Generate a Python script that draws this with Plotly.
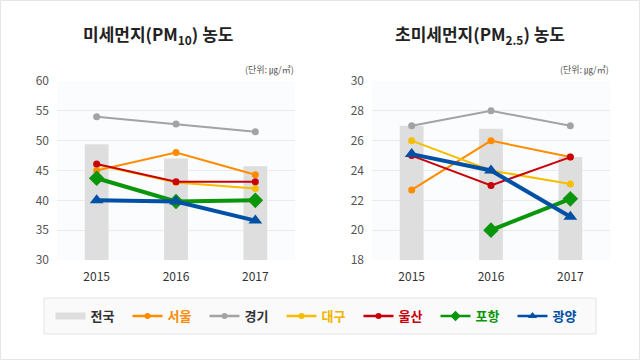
import plotly.graph_objects as go

years = ["2015", "2016", "2017"]

# PM10
pm10_national = [49.4, 47.0, 45.7]
pm10_seoul = [45, 48, 44.3]
pm10_gyeonggi = [54, 52.8, 51.5]
pm10_daegu = [46, 43, 42]
pm10_ulsan = [46.1, 43.1, 43.1]
pm10_pohang = [43.7, 39.8, 40.0]
pm10_gwangyang = [40.0, 39.8, 36.6]

# PM2.5
pm25_national = [27.0, 26.8, 24.9]
pm25_seoul = [22.7, 26, 24.9]
pm25_gyeonggi = [27, 28, 27]
pm25_daegu = [26, 24, 23.1]
pm25_ulsan = [25, 23, 24.9]
pm25_pohang = [None, 20, 22.1]
pm25_gwangyang = [25.1, 24, 20.9]

names = ["전국", "서울", "경기", "대구", "울산", "포항", "광양"]
colors = {"전국": "#dedede", "서울": "#ff8c00", "경기": "#a3a3a3", "대구": "#f5be00",
          "울산": "#c8000a", "포항": "#0a960a", "광양": "#0050a5"}
text_colors = {"전국": "#333333", "서울": "#ff8c00", "경기": "#333333", "대구": "#f0b400",
               "울산": "#c8000a", "포항": "#0a960a", "광양": "#0050a5"}
FONT = "Noto Sans CJK KR"

fig = go.Figure()

def label(n):
    return f"<span style='color:{text_colors[n]}'><b>{n}</b></span>"

def style(n):
    if n == "포항":
        return "diamond", 4, 12
    if n == "광양":
        return "triangle-up", 4, 12
    return "circle", 2, 7

def add_panel(xa, ya, national, series):
    fig.add_trace(go.Bar(x=years, y=national, name="전국", marker=dict(color=colors["전국"], line=dict(width=0)),
                         width=0.3, xaxis=xa, yaxis=ya, showlegend=False))
    for n, vals in series:
        sym, lw, ms = style(n)
        fig.add_trace(go.Scatter(x=years, y=vals, name=n, mode="lines+markers",
                                 line=dict(color=colors[n], width=lw),
                                 marker=dict(symbol=sym, size=ms, color=colors[n]),
                                 xaxis=xa, yaxis=ya, showlegend=False, connectgaps=False))

add_panel("x", "y", pm10_national,
          [("서울", pm10_seoul), ("경기", pm10_gyeonggi), ("대구", pm10_daegu), ("울산", pm10_ulsan),
           ("포항", pm10_pohang), ("광양", pm10_gwangyang)])
add_panel("x2", "y2", pm25_national,
          [("서울", pm25_seoul), ("경기", pm25_gyeonggi), ("대구", pm25_daegu), ("울산", pm25_ulsan),
           ("포항", pm25_pohang), ("광양", pm25_gwangyang)])

# legend entries (no data, styled like the reference legend)
fig.add_trace(go.Scatter(x=[None], y=[None], name=label("전국"), mode="lines",
                         line=dict(color=colors["전국"], width=7),
                         xaxis="x", yaxis="y", showlegend=True))
for n in names[1:]:
    sym, lw, ms = style(n)
    fig.add_trace(go.Scatter(x=[None], y=[None], name=label(n), mode="lines+markers",
                             line=dict(color=colors[n], width=2.5),
                             marker=dict(symbol=sym, size=6 if sym == "circle" else 8, color=colors[n]),
                             xaxis="x", yaxis="y", showlegend=True))

ydom = [1 - 260 / 360, 1 - 81 / 360]
xcommon = dict(showgrid=False, zeroline=False, showline=False, ticks="", automargin=False,
               ticklabelstandoff=8,
               tickfont=dict(family=FONT, size=12, color="#333333"), fixedrange=True)
ycommon = dict(showgrid=True, gridcolor="#ebebeb", gridwidth=1, zeroline=False, showline=False,
               automargin=False, ticks="", ticklen=0, ticklabelstandoff=7,
               tickfont=dict(family=FONT, size=12, color="#555555"), fixedrange=True)

fig.update_layout(
    template="none",
    width=640, height=360,
    margin=dict(l=0, r=0, t=0, b=0, autoexpand=False),
    paper_bgcolor="white",
    plot_bgcolor="#fbfcfd",
    bargap=0.7,
    font=dict(family=FONT),
    xaxis=dict(domain=[57 / 640, 295 / 640], anchor="y", **xcommon),
    yaxis=dict(domain=ydom, range=[30, 60], dtick=5, anchor="x", **ycommon),
    xaxis2=dict(domain=[372 / 640, 610 / 640], anchor="y2", **xcommon),
    yaxis2=dict(domain=ydom, range=[18, 30], dtick=2, anchor="x2", **ycommon),
    legend=dict(orientation="h", x=0.5, xanchor="center", y=1 - 316 / 360, yanchor="middle",
                bgcolor="rgba(0,0,0,0)", borderwidth=0, font=dict(family=FONT, size=13),
                itemwidth=30, entrywidth=32, entrywidthmode="pixels", traceorder="normal"),
    showlegend=True,
)

fig.add_shape(type="rect", xref="paper", yref="paper", x0=44 / 640, x1=596 / 640,
              y0=1 - 334 / 360, y1=1 - 298 / 360, fillcolor="#fafafa",
              line=dict(color="#e4e4e4", width=1), layer="below")
fig.add_shape(type="rect", xref="paper", yref="paper", x0=0.5 / 640, x1=639.5 / 640,
              y0=0.5 / 360, y1=359.5 / 360, line=dict(color="#e6e6e6", width=1), layer="below")

fig.add_annotation(text="<b>미세먼지(PM<sub>10</sub>) 농도</b>", xref="paper", yref="paper",
                   x=158 / 640, y=1 - 35 / 360, xanchor="center", yanchor="middle", showarrow=False,
                   font=dict(family=FONT, size=17, color="#222222"))
fig.add_annotation(text="<b>초미세먼지(PM<sub>2.5</sub>) 농도</b>", xref="paper", yref="paper",
                   x=480 / 640, y=1 - 35 / 360, xanchor="center", yanchor="middle", showarrow=False,
                   font=dict(family=FONT, size=17, color="#222222"))
for xr in (296, 611):
    fig.add_annotation(text="(단위: ㎍/㎥)", xref="paper", yref="paper",
                       x=xr / 640, y=1 - 69 / 360, xanchor="right", yanchor="middle", showarrow=False,
                       font=dict(family=FONT, size=9, color="#555555"))

fig.write_html("out.html", config={"displayModeBar": False},
               post_script="document.body.style.margin='0';document.body.style.overflow='hidden';")
